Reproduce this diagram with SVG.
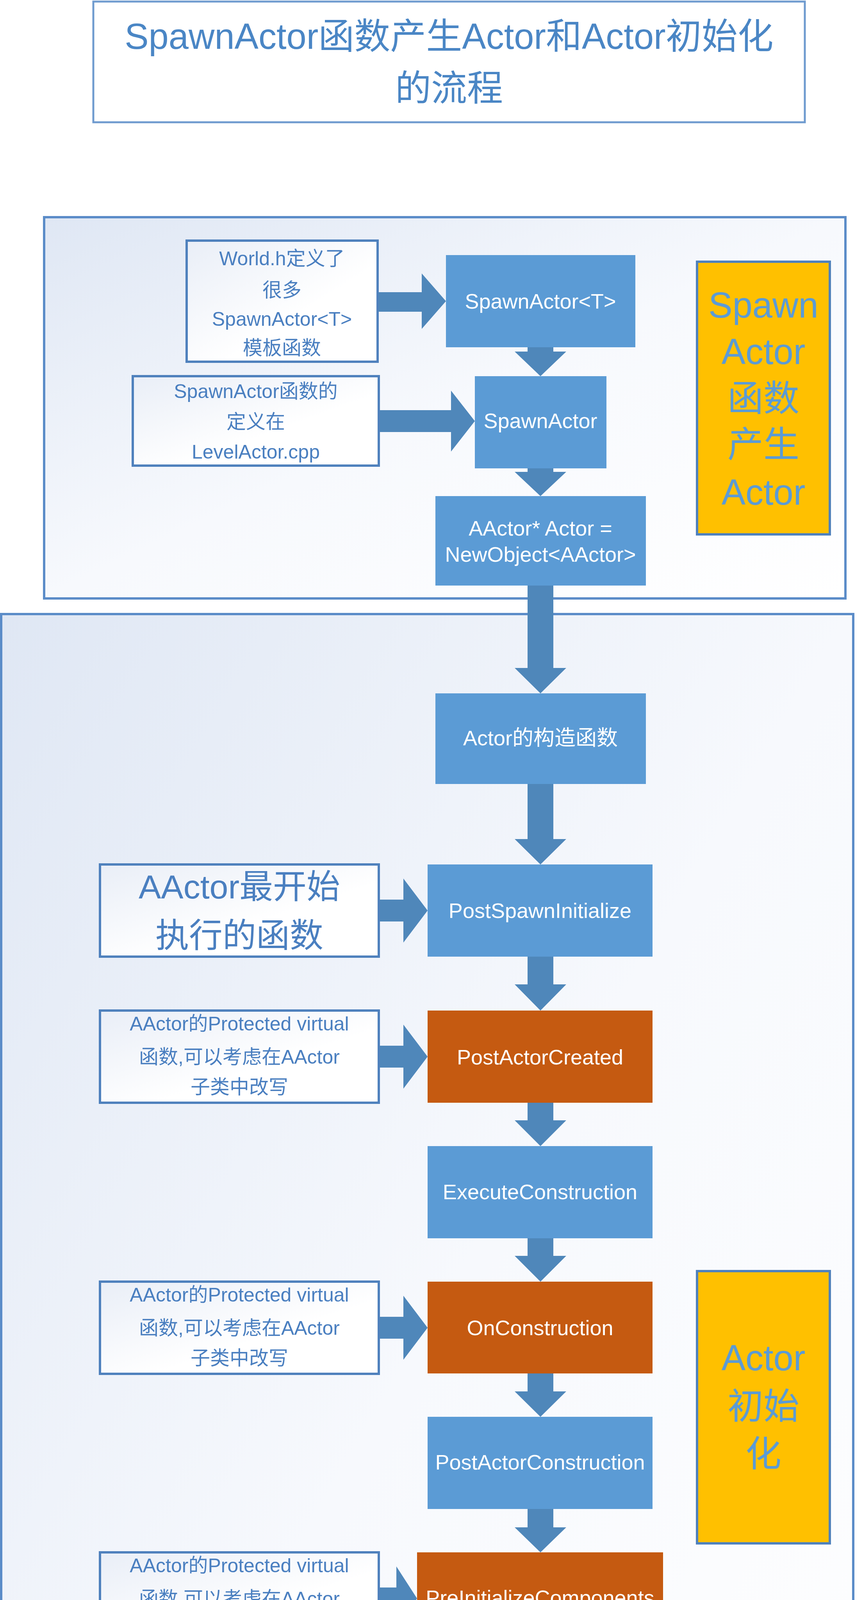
<svg xmlns="http://www.w3.org/2000/svg" width="2210" height="5280" viewBox="0 0 2210 5280">
<defs>
<linearGradient id="bg" x1="0" y1="0" x2="1" y2="1">
<stop offset="0" stop-color="#dfe7f4"/><stop offset="0.5" stop-color="#f7f9fd"/><stop offset="1" stop-color="#ffffff"/>
</linearGradient>
<linearGradient id="cg" x1="0" y1="0" x2="1" y2="1">
<stop offset="0" stop-color="#e9eef7"/><stop offset="0.6" stop-color="#ffffff"/><stop offset="1" stop-color="#ffffff"/>
</linearGradient>
<style>
text{font-family:"Liberation Sans","Noto Sans CJK SC",sans-serif;text-anchor:middle}
.grp{fill:url(#bg);stroke:#5b8cc8;stroke-width:6}
.cmt{fill:url(#cg);stroke:#4f81bd;stroke-width:6}
.blue{fill:#5b9bd5}
.org{fill:#c55a11}
.yel{fill:#ffc000;stroke:#4f81bd;stroke-width:6}
.arr{fill:#4f87ba}
.ct{fill:#4a7fc0;font-size:50px}
.wt{fill:#ffffff;font-size:54px}
.yt{fill:#5b9bd5;font-size:92px}
</style>
</defs>
<rect x="0" y="0" width="2210" height="5280" fill="#ffffff"/>
<g id="title">
<rect x="239" y="4" width="1822" height="309" fill="#ffffff" stroke="#6f9bcf" stroke-width="5"/>
<text x="1150" y="125" fill="#4a86c5" font-size="92">SpawnActor函数产生Actor和Actor初始化</text>
<text x="1150" y="258" fill="#4a86c5" font-size="92">的流程</text>
</g>
<g id="group-spawn"><rect x="113" y="556" width="2052" height="976" class="grp"/></g>
<g id="group-init"><rect x="3" y="1572" width="2182" height="3703" class="grp"/></g>
<g id="connectors">
<polygon class="arr" points="967,748 1080,748 1080,700 1142,771 1080,842 1080,798 967,798"/>
<polygon class="arr" points="970,1050 1155,1050 1155,1000 1216,1078 1155,1156 1155,1106 970,1106"/>
<polygon class="arr" points="1351,889 1417,889 1417,900 1450,900 1384,963 1318,900 1351,900"/>
<polygon class="arr" points="1351,1199 1417,1199 1417,1208 1450,1208 1384,1270 1318,1208 1351,1208"/>
<polygon class="arr" points="1351,1499 1417,1499 1417,1710 1450,1710 1384,1775 1318,1710 1351,1710"/>
<polygon class="arr" points="1351,2007 1417,2007 1417,2148 1450,2148 1384,2213 1318,2148 1351,2148"/>
<polygon class="arr" points="1351,2449 1417,2449 1417,2520 1450,2520 1384,2587 1318,2520 1351,2520"/>
<polygon class="arr" points="1351,2823 1417,2823 1417,2868 1450,2868 1384,2934 1318,2868 1351,2868"/>
<polygon class="arr" points="1351,3170 1417,3170 1417,3215 1450,3215 1384,3281 1318,3215 1351,3215"/>
<polygon class="arr" points="1351,3516 1417,3516 1417,3562 1450,3562 1384,3627 1318,3562 1351,3562"/>
<polygon class="arr" points="1351,3863 1417,3863 1417,3910 1450,3910 1384,3974 1318,3910 1351,3910"/>
<polygon class="arr" points="1351,4210 1417,4210 1417,4222 1450,4222 1384,4281 1318,4222 1351,4222"/>
<polygon class="arr" points="1351,4520 1417,4520 1417,4532 1450,4532 1384,4591 1318,4532 1351,4532"/>
<polygon class="arr" points="1351,4827 1417,4827 1417,4845 1450,4845 1384,4904 1318,4845 1351,4845"/>
<polygon class="arr" points="970,2303 1033,2303 1033,2249 1095,2331 1033,2413 1033,2359 970,2359"/>
<polygon class="arr" points="970,2677 1033,2677 1033,2623 1095,2705 1033,2787 1033,2733 970,2733"/>
<polygon class="arr" points="970,3371 1033,3371 1033,3317 1095,3399 1033,3481 1033,3427 970,3427"/>
<polygon class="arr" points="970,4064 1015,4064 1015,4010 1068,4092 1015,4174 1015,4120 970,4120"/>
<polygon class="arr" points="970,4681 1000,4681 1000,4627 1047,4709 1000,4791 1000,4737 970,4737"/>
<polygon class="arr" points="970,4992 1000,4992 1000,4938 1047,5020 1000,5102 1000,5048 970,5048"/>
</g>
<g id="n-worldh"><rect x="478" y="616" width="489" height="310" class="cmt"/>
<text class="ct" x="722" y="679">World.h定义了</text><text class="ct" x="722" y="760">很多</text><text class="ct" x="722" y="834">SpawnActor&lt;T&gt;</text><text class="ct" x="722" y="908">模板函数</text></g>
<g id="n-spawnT"><rect x="1142" y="653" width="485" height="236" class="blue"/><text class="wt" x="1384" y="790">SpawnActor&lt;T&gt;</text></g>
<g id="n-spawndef"><rect x="340" y="963" width="630" height="229" class="cmt"/>
<text class="ct" x="655" y="1019">SpawnActor函数的</text><text class="ct" x="655" y="1097">定义在</text><text class="ct" x="655" y="1174">LevelActor.cpp</text></g>
<g id="n-spawn"><rect x="1216" y="963" width="337" height="236" class="blue"/><text class="wt" x="1384" y="1096" font-size="46">SpawnActor</text></g>
<g id="n-newobj"><rect x="1115" y="1270" width="539" height="229" class="blue"/>
<text class="wt" x="1384" y="1371" font-size="46">AActor* Actor =</text><text class="wt" x="1384" y="1438" font-size="46">NewObject&lt;AActor&gt;</text></g>
<g id="n-spawnlabel"><rect x="1785" y="670" width="340" height="698" class="yel"/>
<text class="yt" x="1955" y="813">Spawn</text><text class="yt" x="1955" y="932">Actor</text><text class="yt" x="1955" y="1052">函数</text><text class="yt" x="1955" y="1170">产生</text><text class="yt" x="1955" y="1292">Actor</text></g>
<g id="n-ctor"><rect x="1115" y="1775" width="539" height="232" class="blue"/><text class="wt" x="1384" y="1908" font-size="48">Actor的构造函数</text></g>
<g id="n-first"><rect x="256" y="2213" width="714" height="236" class="cmt"/>
<text x="613" y="2300" fill="#4a7fc0" font-size="86">AActor最开始</text><text x="613" y="2425" fill="#4a7fc0" font-size="86">执行的函数</text></g>
<g id="n-psi"><rect x="1095" y="2213" width="576" height="236" class="blue"/><text class="wt" x="1383" y="2350" font-size="58">PostSpawnInitialize</text></g>
<g id="n-c1"><rect x="256" y="2587" width="714" height="236" class="cmt"/>
<text class="ct" x="613" y="2638">AActor的Protected virtual</text><text class="ct" x="613" y="2723">函数,可以考虑在AActor</text><text class="ct" x="613" y="2800">子类中改写</text></g>
<g id="n-pac"><rect x="1095" y="2587" width="576" height="236" class="org"/><text class="wt" x="1383" y="2725" font-size="58">PostActorCreated</text></g>
<g id="n-exec"><rect x="1095" y="2934" width="576" height="236" class="blue"/><text class="wt" x="1383" y="3070" font-size="54">ExecuteConstruction</text></g>
<g id="n-c2"><rect x="256" y="3281" width="714" height="236" class="cmt"/>
<text class="ct" x="613" y="3332">AActor的Protected virtual</text><text class="ct" x="613" y="3417">函数,可以考虑在AActor</text><text class="ct" x="613" y="3494">子类中改写</text></g>
<g id="n-oncons"><rect x="1095" y="3281" width="576" height="235" class="org"/><text class="wt" x="1383" y="3418" font-size="58">OnConstruction</text></g>
<g id="n-pacons"><rect x="1095" y="3627" width="576" height="236" class="blue"/><text class="wt" x="1383" y="3762" font-size="48">PostActorConstruction</text></g>
<g id="n-initlabel"><rect x="1785" y="3254" width="340" height="697" class="yel"/>
<text class="yt" x="1955" y="3508">Actor</text><text class="yt" x="1955" y="3632">初始</text><text class="yt" x="1955" y="3754">化</text></g>
<g id="n-c3"><rect x="256" y="3974" width="714" height="236" class="cmt"/>
<text class="ct" x="613" y="4025">AActor的Protected virtual</text><text class="ct" x="613" y="4110">函数,可以考虑在AActor</text><text class="ct" x="613" y="4187">子类中改写</text></g>
<g id="n-preinit"><rect x="1068" y="3974" width="630" height="236" class="org"/><text class="wt" x="1383" y="4109" font-size="46">PreInitializeComponents</text></g>
<g id="n-init"><rect x="1068" y="4281" width="630" height="239" class="blue"/><text class="wt" x="1383" y="4420" font-size="54">InitializeComponents</text></g>
<g id="n-c4"><rect x="256" y="4591" width="714" height="236" class="cmt"/>
<text class="ct" x="613" y="4642">AActor的Protected virtual</text><text class="ct" x="613" y="4727">函数,可以考虑在AActor</text><text class="ct" x="613" y="4804">子类中改写</text></g>
<g id="n-postinit"><rect x="1047" y="4591" width="674" height="236" class="org"/><text class="wt" x="1384" y="4727" font-size="48">PostInitializeComponents</text></g>
<g id="n-c5"><rect x="256" y="4904" width="714" height="232" class="cmt"/>
<text class="ct" x="613" y="4955">AActor的Protected virtual</text><text class="ct" x="613" y="5038">函数,可以考虑在AActor</text><text class="ct" x="613" y="5114">子类中改写</text></g>
<g id="n-begin"><rect x="1047" y="4904" width="674" height="232" class="org"/><text class="wt" x="1384" y="5050" font-size="88">BeginPlay</text></g>
</svg>
